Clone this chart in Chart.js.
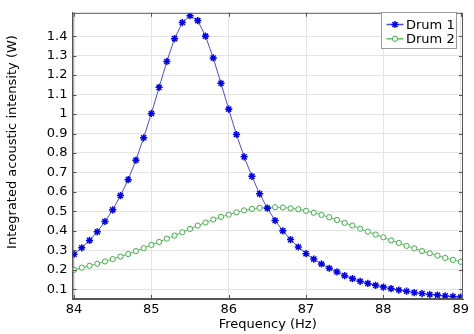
<!DOCTYPE html>
<html>
<head>
<meta charset="utf-8">
<script src="https://cdn.jsdelivr.net/npm/chart.js@4"></script>
<style>
  html, body { margin: 0; padding: 0; background: #fff; }
  #wrap { width: 474px; height: 334px; position: relative; }
</style>
</head>
<body>
<div id="wrap"><canvas id="c"></canvas></div>
<script>
// frequency sweep, 0.1 Hz steps
const freq = [84.0,84.1,84.2,84.3,84.4,84.5,84.6,84.7,84.8,84.9,
  85.0,85.1,85.2,85.3,85.4,85.5,85.6,85.7,85.8,85.9,
  86.0,86.1,86.2,86.3,86.4,86.5,86.6,86.7,86.8,86.9,
  87.0,87.1,87.2,87.3,87.4,87.5,87.6,87.7,87.8,87.9,
  88.0,88.1,88.2,88.3,88.4,88.5,88.6,88.7,88.8,88.9,89.0];
const drum1 = [0.280,0.313,0.351,0.395,0.448,0.508,0.581,0.663,0.763,0.878,
  1.003,1.137,1.270,1.387,1.470,1.505,1.480,1.400,1.288,1.158,
  1.025,0.895,0.780,0.680,0.590,0.516,0.453,0.400,0.355,0.317,
  0.283,0.255,0.230,0.208,0.189,0.170,0.155,0.141,0.130,0.120,
  0.111,0.103,0.096,0.090,0.083,0.078,0.073,0.070,0.066,0.063,0.060];
const drum2 = [0.200,0.211,0.221,0.231,0.243,0.255,0.268,0.281,0.296,0.311,
  0.328,0.343,0.360,0.376,0.393,0.410,0.427,0.443,0.458,0.472,
  0.483,0.495,0.505,0.513,0.518,0.520,0.521,0.520,0.516,0.511,
  0.503,0.493,0.482,0.470,0.456,0.441,0.427,0.411,0.396,0.381,
  0.367,0.351,0.338,0.323,0.310,0.296,0.285,0.273,0.261,0.251,0.241];
const xTicks = [84, 85, 86, 87, 88, 89];
const yTicks = [0.1,0.2,0.3,0.4,0.5,0.6,0.7,0.8,0.9,1,1.1,1.2,1.3,1.4];
const yTitle = 'Integrated acoustic intensity (W)';

const FONT = 'DejaVu Sans';
const pts = ys => freq.map((f, i) => ({ x: f, y: ys[i] }));
const fmt = v => String(Math.round(v * 10) / 10);

// inward tick marks on all four sides, y title, legend box inside the plot
const frame = {
  id: 'frame',
  afterDraw(chart) {
    const { ctx, chartArea: a, scales } = chart;
    ctx.save();
    ctx.strokeStyle = '#555';
    ctx.lineWidth = 1;
    ctx.beginPath();
    yTicks.forEach(t => {
      const y = Math.round(scales.y.getPixelForValue(t)) + 0.5;
      ctx.moveTo(a.left, y); ctx.lineTo(a.left + 4, y);
      ctx.moveTo(a.right, y); ctx.lineTo(a.right - 4, y);
    });
    xTicks.forEach(t => {
      const x = Math.round(scales.x.getPixelForValue(t)) + 0.5;
      ctx.moveTo(x, a.bottom); ctx.lineTo(x, a.bottom - 4);
      ctx.moveTo(x, a.top); ctx.lineTo(x, a.top + 4);
    });
    ctx.stroke();
    ctx.strokeRect(a.left + 0.5, a.top + 0.5, a.right - a.left - 1, a.bottom - a.top - 1);

    // y axis title (sits a little above the plot centre in the original)
    ctx.save();
    ctx.translate(12.5, 142);
    ctx.rotate(-Math.PI / 2);
    ctx.fillStyle = '#000';
    ctx.font = '13px ' + FONT;
    ctx.textAlign = 'center';
    ctx.textBaseline = 'middle';
    ctx.fillText(yTitle, 0, 0);
    ctx.restore();

    // legend
    const bx = 381.5, by = 12.5, bw = 75, bh = 36;
    ctx.fillStyle = '#fff';
    ctx.fillRect(bx, by, bw, bh);
    ctx.strokeStyle = '#999';
    ctx.strokeRect(bx, by, bw, bh);
    ctx.font = '13px ' + FONT;
    ctx.textBaseline = 'middle';
    chart.data.datasets.forEach((ds, i) => {
      const cy = by + 12 + i * 14.3;
      ctx.strokeStyle = ds.borderColor;
      ctx.lineWidth = 1.5;
      ctx.beginPath(); ctx.moveTo(bx + 5, cy); ctx.lineTo(bx + 22, cy); ctx.stroke();
      ctx.strokeStyle = ds.pointBorderColor;
      ctx.fillStyle = ds.pointBackgroundColor;
      ctx.lineWidth = ds.pointBorderWidth;
      Chart.helpers.drawPoint(ctx, {
        pointStyle: ds.pointStyle, radius: ds.pointRadius, borderWidth: ds.pointBorderWidth, rotation: 0
      }, bx + 13.5, cy);
      ctx.fillStyle = '#000';
      ctx.fillText(ds.label, bx + 24.5, cy + 1);
    });
    ctx.restore();
  }
};

new Chart(document.getElementById('c'), {
  type: 'line',
  data: {
    datasets: [
      {
        label: 'Drum 1', data: pts(drum1),
        borderColor: '#4a4af0', borderWidth: 1,
        pointStyle: 'star', pointRadius: 3.6, pointBorderWidth: 1.5,
        pointBorderColor: '#0000ee', pointBackgroundColor: '#0000ee'
      },
      {
        label: 'Drum 2', data: pts(drum2),
        borderColor: '#5cc45c', borderWidth: 1,
        pointStyle: 'circle', pointRadius: 2.6, pointBorderWidth: 1,
        pointBorderColor: '#3cb043', pointBackgroundColor: '#ffffff'
      }
    ]
  },
  options: {
    responsive: true, maintainAspectRatio: false, animation: false,
    layout: { padding: { top: 5, right: 11, left: 0, bottom: 0 } },
    plugins: { legend: { display: false }, tooltip: { enabled: false } },
    scales: {
      x: {
        type: 'linear', min: 83.98, max: 89.03,
        afterBuildTicks: s => { s.ticks = xTicks.map(v => ({ value: v })); },
        afterFit: s => { s.height = 35; },
        grid: { color: '#e4e4e4', drawTicks: false },
        border: { color: '#555' },
        ticks: { color: '#000', padding: 3, font: { family: FONT, size: 13 }, callback: v => String(v), maxRotation: 0 },
        title: { display: true, text: 'Frequency (Hz)', color: '#000', font: { family: FONT, size: 13 }, padding: { top: 0, bottom: 2 } }
      },
      y: {
        min: 0.05, max: 1.52,
        afterBuildTicks: s => { s.ticks = yTicks.map(v => ({ value: v })); },
        afterFit: s => { s.width = 72.5; },
        grid: { color: '#e4e4e4', drawTicks: false },
        border: { color: '#555' },
        ticks: { color: '#000', padding: 5, font: { family: FONT, size: 13 }, callback: v => fmt(v) },
        title: { display: false }
      }
    }
  },
  plugins: [frame]
});
</script>
</body>
</html>
